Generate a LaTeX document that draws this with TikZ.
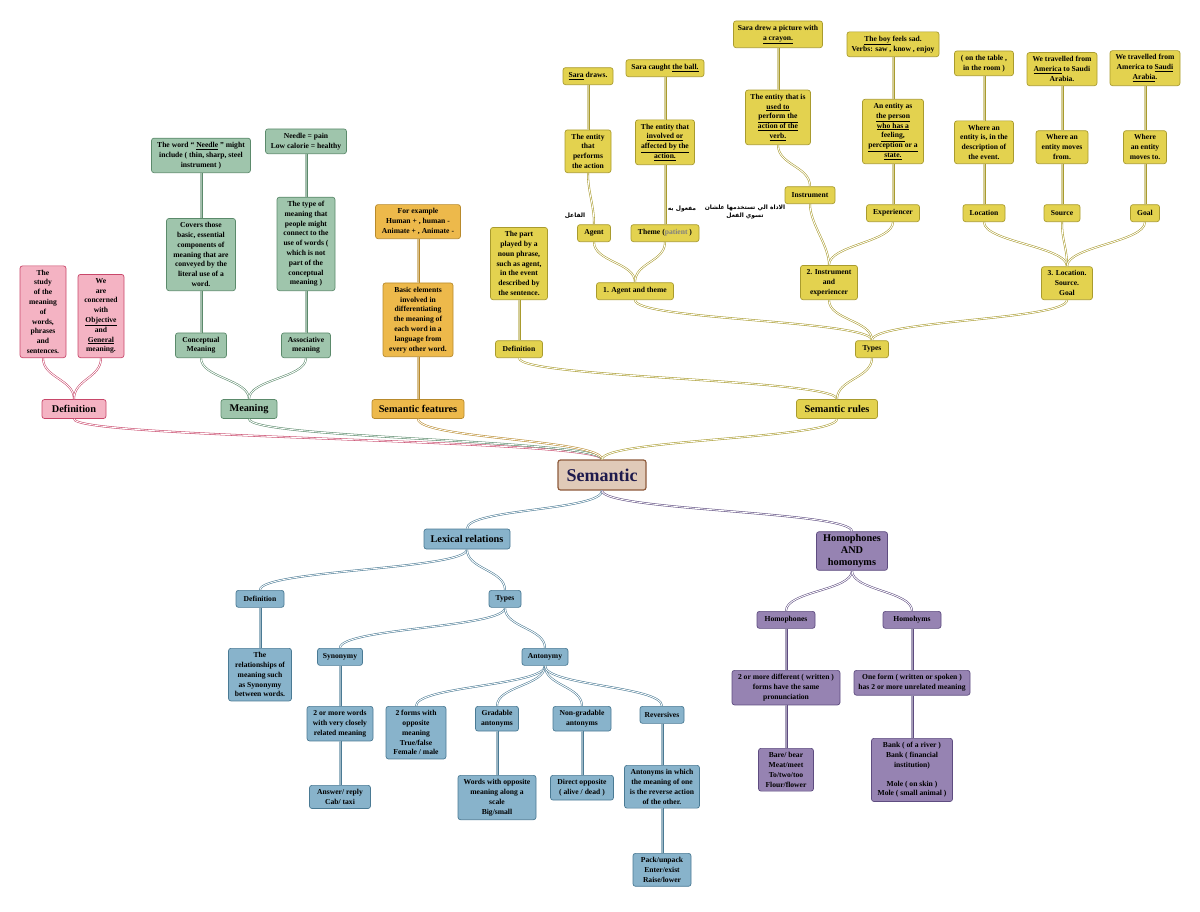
\documentclass[tikz,border=0pt]{standalone}
\usepackage{fontspec}
\setmainfont{Liberation Serif}
\newfontfamily\arabicfont[Script=Arabic]{DejaVu Sans}
\TeXXeTstate=1

\definecolor{pinkfill}{HTML}{F4B3C3}
\definecolor{pinkline}{HTML}{C8476A}
\definecolor{greenfill}{HTML}{9FC5AC}
\definecolor{greenline}{HTML}{5B8A6B}
\definecolor{orangefill}{HTML}{EDB94B}
\definecolor{orangeline}{HTML}{B88A2C}
\definecolor{yellowfill}{HTML}{E3D24F}
\definecolor{yellowline}{HTML}{A99B2E}
\definecolor{bluefill}{HTML}{88B3CB}
\definecolor{blueline}{HTML}{4A7A94}
\definecolor{purplefill}{HTML}{9683B2}
\definecolor{purpleline}{HTML}{5E4C80}
\definecolor{semfill}{HTML}{E0CAB8}
\definecolor{semline}{HTML}{8E5B3C}
\definecolor{semtext}{HTML}{1E1A4D}

\tikzset{
  box/.style={draw, rounded corners=2.5pt, line width=0.7pt, align=center, inner xsep=3pt, inner ysep=4pt,
    minimum height=17pt, font=\fontsize{7.6}{9.8}\selectfont\bfseries},
  main/.style={inner xsep=4pt, inner ysep=3pt, minimum height=19pt, font=\fontsize{10.3}{11.6}\selectfont\bfseries},
  pinkbox/.style={box, fill=pinkfill, draw=pinkline},
  greenbox/.style={box, fill=greenfill, draw=greenline},
  orangebox/.style={box, fill=orangefill, draw=orangeline},
  yellowbox/.style={box, fill=yellowfill, draw=yellowline},
  bluebox/.style={box, fill=bluefill, draw=blueline},
  purplebox/.style={box, fill=purplefill, draw=purpleline},
  arabic/.style={align=center, inner sep=0pt, font=\fontsize{6}{7.5}\selectfont\bfseries},
  branch/.style={double=white, double distance=0.9pt, line width=0.55pt},
  stem/.style={double distance=2pt, line width=0.5pt},
  pbranch/.style={branch, draw=pinkline},
  gbranch/.style={branch, draw=greenline},
  obranch/.style={branch, draw=orangeline},
  ybranch/.style={branch, draw=yellowline},
  bbranch/.style={branch, draw=blueline},
  vbranch/.style={branch, draw=purpleline},
  gstem/.style={stem, draw=greenline, double=greenline!55!white},
  ostem/.style={stem, draw=orangeline, double=orangeline!55!white},
  ystem/.style={stem, draw=yellowline, double=yellowline!50!white},
  bstem/.style={stem, draw=blueline, double=blueline!55!white},
  vstem/.style={stem, draw=purpleline, double=purpleline!55!white},
}

\begin{document}
\begin{tikzpicture}[x=1pt, y=-1pt]
\useasboundingbox (0,0) rectangle (1200,911);

% centre
\node[box, fill=semfill, draw=semline, line width=1.2pt, minimum width=88pt, minimum height=30pt,
  font=\fontsize{18}{20}\selectfont\bfseries, text=semtext] (sem) at (602,475) {Semantic};

% definition
\node[pinkbox, main, minimum width=64pt] (defn) at (74,409) {Definition};
\node[pinkbox, minimum width=46pt, anchor=south] (defA) at (43,358) {The\\ study\\ of the\\ meaning\\ of\\ words,\\ phrases\\ and\\ sentences.};
\node[pinkbox, minimum width=46pt, anchor=south] (defB) at (101,358) {We\\ are\\ concerned\\ with\\ \underline{Objective}\\ and\\ \underline{General}\\ meaning.};

% meaning
\node[greenbox, main, minimum width=56pt] (mean) at (249,409) {Meaning};
\node[greenbox, minimum width=51pt, anchor=south] (concM) at (201,358) {Conceptual\\ Meaning};
\node[greenbox, minimum width=49pt, anchor=south] (assoM) at (306,358) {Associative\\ meaning};
\node[greenbox, minimum width=69pt, anchor=south] (covers) at (201,291) {Covers those\\ basic, essential\\ components of\\ meaning that are\\ conveyed by the\\ literal use of a\\ word.};
\node[greenbox, minimum width=58pt, anchor=south] (typeM) at (306,291) {The type of\\ meaning that\\ people might\\ connect to the\\ use of words (\\ which is not\\ part of the\\ conceptual\\ meaning )};
\node[greenbox, minimum width=99pt, anchor=south] (needle) at (201,173) {The word “ \underline{Needle} ” might\\ include ( thin, sharp, steel\\ instrument )};
\node[greenbox, minimum width=81pt, anchor=south] (pain) at (306,154) {Needle = pain\\ Low calorie = healthy};

% semantic features
\node[orangebox, main, minimum width=92pt] (feat) at (418,409) {Semantic features};
\node[orangebox, minimum width=70pt, anchor=south] (basic) at (418,357) {Basic elements\\ involved in\\ differentiating\\ the meaning of\\ each word in a\\ language from\\ every other word.};
\node[orangebox, minimum width=85pt, anchor=south] (human) at (418,239) {For example\\ Human + , human -\\ Animate + , Animate -};

% semantic rules
\node[yellowbox, main, minimum width=81pt] (rules) at (837,409) {Semantic rules};
\node[yellowbox, minimum width=47pt, anchor=south] (ydef) at (519,358) {Definition};
\node[yellowbox, minimum width=57pt, anchor=south] (part) at (519,300) {The part\\ played by a\\ noun phrase,\\ such as agent,\\ in the event\\ described by\\ the sentence.};
\node[yellowbox, minimum width=33pt, anchor=south] (types) at (872,358) {Types};
\node[yellowbox, minimum width=77pt, anchor=south] (agth) at (635,300) {1. Agent and theme};
\node[yellowbox, minimum width=57pt, anchor=south] (inex) at (829,300) {2. Instrument\\ and\\ experiencer};
\node[yellowbox, minimum width=51pt, anchor=south] (lsg) at (1067,300) {3. Location.\\ Source.\\ Goal};
\node[yellowbox, minimum width=33pt, anchor=south] (agent) at (594,242) {Agent};
\node[yellowbox, minimum width=68pt, anchor=south] (theme) at (665,242) {Theme ({\color{black!50}patient} )};
\node[yellowbox, minimum width=46pt, anchor=south] (perf) at (588,173) {The entity\\ that\\ performs\\ the action};
\node[yellowbox, minimum width=59pt, anchor=south] (invol) at (665,165) {The entity that\\ \underline{involved or}\\ \underline{affected by the}\\ \underline{action.}};
\node[yellowbox, minimum width=50pt, anchor=south] (draws) at (588,85) {\underline{Sara} draws.};
\node[yellowbox, minimum width=78pt, anchor=south] (caught) at (665,77) {Sara caught \underline{the ball.}};
\node[yellowbox, minimum width=50pt, anchor=south] (instr) at (810,204) {Instrument};
\node[yellowbox, minimum width=65pt, anchor=south] (used) at (778,145) {The entity that is\\ \underline{used to}\\ \underline{perform the}\\ \underline{action of the}\\ \underline{verb.}};
\node[yellowbox, minimum width=89pt, anchor=south] (crayon) at (778,48) {Sara drew a picture with\\ \underline{a crayon.}};
\node[yellowbox, minimum width=53pt, anchor=south] (exper) at (893,222) {Experiencer};
\node[yellowbox, minimum width=61pt, anchor=south] (person) at (893,164) {An entity as\\ \underline{the person}\\ \underline{who has a}\\ \underline{feeling,}\\ \underline{perception or a}\\ \underline{state.}};
\node[yellowbox, minimum width=92pt, anchor=south] (sad) at (893,57) {\underline{The boy} feels sad.\\ Verbs: saw , know , enjoy};
\node[yellowbox, minimum width=42pt, anchor=south] (loc) at (984,222) {Location};
\node[yellowbox, minimum width=36pt, anchor=south] (src) at (1062,222) {Source};
\node[yellowbox, minimum width=29pt, anchor=south] (goal) at (1145,222) {Goal};
\node[yellowbox, minimum width=59pt, anchor=south] (where) at (984,164) {Where an\\ entity is, in the\\ description of\\ the event.};
\node[yellowbox, minimum width=52pt, anchor=south] (from) at (1062,164) {Where an\\ entity moves\\ from.};
\node[yellowbox, minimum width=43pt, anchor=south] (to) at (1145,164) {Where\\ an entity\\ moves to.};
\node[yellowbox, minimum width=59pt, anchor=south] (table) at (984,76) {( on the table ,\\ in the room )};
\node[yellowbox, minimum width=70pt, anchor=south] (amer) at (1062,86) {We travelled from\\ \underline{America} to Saudi\\ Arabia.};
\node[yellowbox, minimum width=70pt, anchor=south] (saudi) at (1145,86) {We travelled from\\ America to \underline{Saudi}\\ \underline{Arabia}.};

% arabic notes
\node[arabic] (fail) at (575,216) {\arabicfont\beginR الفاعل\endR};
\node[arabic] (mafool) at (682,209) {\arabicfont\beginR مفعول به\endR};
\node[arabic] (adah) at (745,212) {\arabicfont\beginR الاداة الي تستخدمها علشان\endR\\ \arabicfont\beginR تسوي الفعل\endR};

% lexical relations
\node[bluebox, main, minimum width=86pt, minimum height=20pt] (lex) at (467,539) {Lexical relations};
\node[bluebox, minimum width=48pt, anchor=north] (bdef) at (260,590) {Definition};
\node[bluebox, minimum width=32pt, anchor=north] (btypes) at (505,590) {Types};
\node[bluebox, minimum width=63pt, anchor=north] (rel) at (260,648) {The\\ relationships of\\ meaning such\\ as Synonymy\\ between words.};
\node[bluebox, minimum width=45pt, anchor=north] (syn) at (340,648) {Synonymy};
\node[bluebox, minimum width=46pt, anchor=north] (ant) at (545,648) {Antonymy};
\node[bluebox, minimum width=66pt, anchor=north] (close) at (340,706) {2 or more words\\ with very closely\\ related meaning};
\node[bluebox, minimum width=61pt, anchor=north] (answer) at (340,785) {Answer/ reply\\ Cab/ taxi};
\node[bluebox, minimum width=60pt, anchor=north] (forms) at (416,706) {2 forms with\\ opposite\\ meaning\\ True/false\\ Female / male};
\node[bluebox, minimum width=43pt, anchor=north] (grad) at (497,706) {Gradable\\ antonyms};
\node[bluebox, minimum width=58pt, anchor=north] (nongrad) at (582,706) {Non-gradable\\ antonyms};
\node[bluebox, minimum width=44pt, anchor=north] (rev) at (662,706) {Reversives};
\node[bluebox, minimum width=78pt, anchor=north] (scale) at (497,775) {Words with opposite\\ meaning along a\\ scale\\ Big/small};
\node[bluebox, minimum width=63pt, anchor=north] (direct) at (582,775) {Direct opposite\\ ( alive / dead )};
\node[bluebox, minimum width=75pt, anchor=north] (revdef) at (662,765) {Antonyms in which\\ the meaning of one\\ is the reverse action\\ of the other.};
\node[bluebox, minimum width=58pt, anchor=north] (pack) at (662,853) {Pack/unpack\\ Enter/exist\\ Raise/lower};

% homophones and homonyms
\node[purplebox, main, minimum width=71pt] (hom) at (852,551) {Homophones\\ AND\\ homonyms};
\node[purplebox, minimum width=58pt, anchor=north] (hphon) at (786,611) {Homophones};
\node[purplebox, minimum width=58pt, anchor=north] (hnym) at (912,611) {Homohyms};
\node[purplebox, minimum width=108pt, anchor=north] (diff) at (786,670) {2 or more different ( written )\\ forms have the same\\ pronunciation};
\node[purplebox, minimum width=116pt, anchor=north] (oneform) at (912,670) {One form ( written or spoken )\\ has 2 or more unrelated meaning};
\node[purplebox, minimum width=55pt, anchor=north] (bare) at (786,748) {Bare/ bear\\ Meat/meet\\ To/two/too\\ Flour/flower};
\node[purplebox, minimum width=81pt, anchor=north] (bank) at (912,738) {Bank ( of a river )\\ Bank ( financial\\ institution)\\[9pt] Mole ( on skin )\\ Mole ( small animal )};

% connectors, upper half
\foreach \b/\s in {defn/pbranch, mean/gbranch, feat/obranch, rules/ybranch}
  \draw[\s] (sem.north) .. controls +(0,-20) and +(0,20) .. (\b.south);
\foreach \a/\b in {defn/defA, defn/defB}
  \draw[pbranch] (\a.north) .. controls +(0,-20) and +(0,20) .. (\b.south);
\foreach \a/\b in {mean/concM, mean/assoM}
  \draw[gbranch] (\a.north) .. controls +(0,-20) and +(0,20) .. (\b.south);
\foreach \a/\b in {concM/covers, covers/needle, assoM/typeM, typeM/pain}
  \draw[gstem] (\a.north) -- (\b.south);
\foreach \a/\b in {feat/basic, basic/human}
  \draw[ostem] (\a.north) -- (\b.south);
\foreach \a/\b in {rules/ydef, rules/types, types/agth, types/inex, types/lsg, agth/agent, agth/theme,
    agent/perf, inex/instr, inex/exper, instr/used, lsg/loc, lsg/src, lsg/goal}
  \draw[ybranch] (\a.north) .. controls +(0,-20) and +(0,20) .. (\b.south);
\foreach \a/\b in {ydef/part, theme/invol, perf/draws, invol/caught, used/crayon, exper/person, person/sad,
    loc/where, where/table, src/from, from/amer, goal/to, to/saudi}
  \draw[ystem] (\a.north) -- (\b.south);

% connectors, lower half
\draw[bbranch] (sem.south) .. controls +(0,20) and +(0,-20) .. (lex.north);
\draw[vbranch] (sem.south) .. controls +(0,20) and +(0,-20) .. (hom.north);
\foreach \a/\b in {lex/bdef, lex/btypes, btypes/syn, btypes/ant, ant/forms, ant/grad, ant/nongrad, ant/rev}
  \draw[bbranch] (\a.south) .. controls +(0,20) and +(0,-20) .. (\b.north);
\foreach \a/\b in {bdef/rel, syn/close, close/answer, grad/scale, nongrad/direct, rev/revdef, revdef/pack}
  \draw[bstem] (\a.south) -- (\b.north);
\foreach \a/\b in {hom/hphon, hom/hnym}
  \draw[vbranch] (\a.south) .. controls +(0,20) and +(0,-20) .. (\b.north);
\foreach \a/\b in {hphon/diff, diff/bare, hnym/oneform, oneform/bank}
  \draw[vstem] (\a.south) -- (\b.north);

\end{tikzpicture}
\end{document}
